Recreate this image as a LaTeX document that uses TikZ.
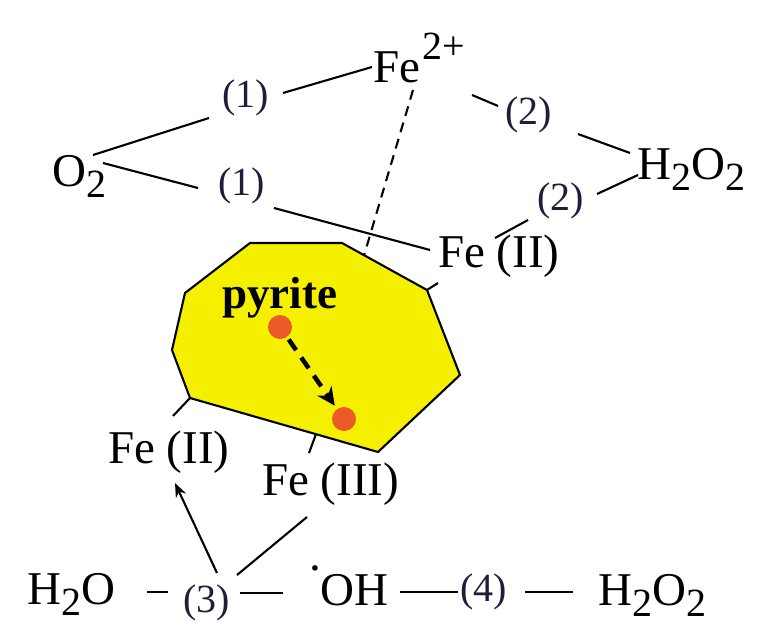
\documentclass[tikz,border=0pt]{standalone}
\usepackage{fontspec}
\setmainfont{Liberation Serif}
\usetikzlibrary{positioning, calc, arrows.meta}

\definecolor{pyriteyellow}{RGB}{245,240,0}
\definecolor{siteorange}{RGB}{235,90,40}
\definecolor{rxnblue}{RGB}{30,30,60}

\newcommand{\chsub}[1]{\raisebox{-11pt}{\fontsize{40}{40}\selectfont #1}}
\newcommand{\chsup}[1]{\raisebox{23pt}{\fontsize{40}{40}\selectfont #1}}

\begin{document}
\begin{tikzpicture}[
            x=1pt, y=-1pt,
            species/.style = {inner sep=0pt, anchor=base west, font=\fontsize{47}{50}\selectfont},
            rxn/.style = {inner sep=0pt, anchor=base west, text=rxnblue, font=\fontsize{40}{44}\selectfont},
            bond/.style = {line width=2.1pt},
            site/.style = {circle, fill=siteorange, inner sep=0pt, minimum size=24pt}
        ]
        \useasboundingbox (0,0) rectangle (765,636);

        % pyrite grain
        \coordinate (p1) at (250,243);
        \coordinate (p2) at (342,243);
        \coordinate (p3) at (427,290);
        \coordinate (p4) at (460,375);
        \coordinate (p5) at (378,452);
        \coordinate (p6) at (190,398);
        \coordinate (p7) at (172,350);
        \coordinate (p8) at (185,293);
        \draw[bond, fill=pyriteyellow] (p1) -- (p2) -- (p3) -- (p4) -- (p5) -- (p6) -- (p7) -- (p8) -- cycle;

        \coordinate (e2) at ($(p2)!0.26!(p3)$);
        \coordinate (e5) at ($(p6)!0.67!(p5)$);
        \coordinate (s3) at (438,283);
        \coordinate (s6) at (173,416);
        \coordinate (s5) at (309,453);
        \draw[bond] (p3) -- (s3);
        \draw[bond] (p6) -- (s6);
        \draw[bond] (e5) -- (s5);

        \node (d1) [site] at (280,327) {};
        \node (d2) [site] at (344,419) {};
        \node (pyr) [species, font=\fontsize{45}{48}\selectfont\bfseries] at (222,308) {pyrite};
        \draw[line width=4.5pt, dash pattern=on 13pt off 9pt, -{Stealth[length=18pt,width=17pt]},
              shorten <=3pt, shorten >=4pt] (d1) -- (d2);

        % upper species
        \node (fe2)   [species] at (373,83)  {Fe\kern2pt\chsup{2+}};
        \node (o2)    [species] at (52,187)  {O\chsub{2}};
        \node (h2o2r) [species] at (637,180) {H\chsub{2}O\chsub{2}};
        \node (feiir) [species] at (438,268) {Fe (II)};
        \node (t1)    [rxn] at (222,108) {(1)};
        \node (m1)    [rxn] at (218,196) {(1)};
        \node (t2)    [rxn] at (505,125) {(2)};
        \node (m2)    [rxn] at (537,211) {(2)};

        \draw[bond] ([shift={(41,-32)}]o2.base west)    -- ([shift={(-13,10)}]t1.base west);
        \draw[bond] ([shift={(61,-15)}]t1.base west)    -- ([shift={(-1,-16)}]fe2.base west);
        \draw[bond] ([shift={(51,-24)}]o2.base west)    -- ([shift={(-20,-8)}]m1.base west);
        \draw[bond] ([shift={(56,12)}]m1.base west)     -- ([shift={(-8,-18)}]feiir.base west);
        \draw[bond, dash pattern=on 10pt off 7pt] ([shift={(40,7)}]fe2.base west) -- (e2);
        \draw[bond] ([shift={(99,12)}]fe2.base west)    -- ([shift={(-7,-19)}]t2.base west);
        \draw[bond] ([shift={(73,9)}]t2.base west)      -- ([shift={(-7,-27)}]h2o2r.base west);
        \draw[bond] ([shift={(1,-5)}]h2o2r.base west)   -- ([shift={(60,-17)}]m2.base west);
        \draw[bond] ([shift={(-9,9)}]m2.base west)      -- ([shift={(57,-30)}]feiir.base west);

        % lower species
        \node (feiil) [species] at (108,463) {Fe (II)};
        \node (feiii) [species] at (262,495) {Fe (III)};
        \node (h2o)   [species] at (27,604)  {H\chsub{2}O};
        \node (oh)    [species] at (309,605) {\raisebox{35pt}{.}OH};
        \node (h2o2b) [species] at (598,605) {H\chsub{2}O\chsub{2}};
        \node (t3)    [rxn] at (183,612) {(3)};
        \node (t4)    [rxn] at (460,601) {(4)};

        \draw[bond] ([shift={(120,-12)}]h2o.base west)  -- ([shift={(-15,-20)}]t3.base west);
        \draw[bond] ([shift={(57,-19)}]t3.base west)    -- ([shift={(-26,-12)}]oh.base west);
        \draw[bond] ([shift={(91,-13)}]oh.base west)    -- ([shift={(-2,-9)}]t4.base west);
        \draw[bond] ([shift={(65,-9)}]t4.base west)     -- ([shift={(-25,-13)}]h2o2b.base west);
        \draw[bond, -{Stealth[length=14pt,width=11pt]}] ([shift={(34,-39)}]t3.base west) -- ([shift={(67,20)}]feiil.base west);
        \draw[bond] ([shift={(54,-37)}]t3.base west)    -- ([shift={(45,22)}]feiii.base west);
    \end{tikzpicture}
\end{document}
